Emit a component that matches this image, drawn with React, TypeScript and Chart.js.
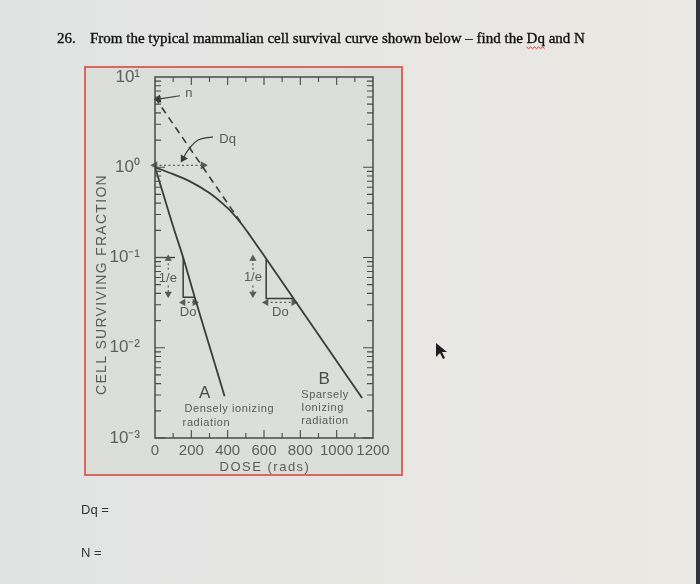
import { useEffect, useRef } from "react";
import { Chart, registerables } from "chart.js";

Chart.register(...registerables);

// ---------- data ----------
const doseTicks = [0, 200, 400, 600, 800, 1000, 1200];
const decadeTicks = [0.001, 0.01, 0.1, 1, 10];
const decadeLabels = ["10⁻³", "10⁻²", "10⁻¹", "10⁰", "10¹"];

// Curve A: densely ionizing radiation
const curveADose = [0, 50, 100, 155, 219, 300, 383];
const curveAFraction = [1.0, 0.47, 0.22, 0.1, 0.036, 0.0104, 0.0029];

// Curve B: sparsely ionizing radiation (shouldered)
const curveBDose = [0, 100, 192, 300, 373, 413, 482, 520, 614, 740, 900, 1140];
const curveBFraction = [1.0, 0.838, 0.697, 0.518, 0.396, 0.332, 0.228, 0.179, 0.0955, 0.041, 0.0139, 0.00277];

// Extrapolated straight portion of B back to n
const extrapDose = [0, 482];
const extrapFraction = [5.92, 0.229];

// Dq dotted arrow
const dqDose = [0, 265];
const dqFraction = [1.05, 1.05];

// Curved pointer from "Dq" label
const dqPointerDose = [319, 237, 182, 155];
const dqPointerFraction = [2.17, 2.0, 1.55, 1.25];

// Pointer from "n"
const nPointerDose = [137, 18];
const nPointerFraction = [6.2, 5.7];

// D0 triangles
const triADose = [155, 155, 219];
const triAFraction = [0.1, 0.0362, 0.0362];
const triBDose = [612, 612, 763];
const triBFraction = [0.0955, 0.0351, 0.0351];

// D0 dotted arrows
const d0ArrowADose = [155, 219];
const d0ArrowBDose = [612, 763];
const d0ArrowFraction = [0.0318, 0.0318];

// 1/e dotted arrows (with gap for label)
const eArrowADose = [73, 73, 73, 73, 73];
const eArrowBDose = [539, 539, 539, 539, 539];
const eArrowFraction = [0.097, 0.071, null, 0.049, 0.0395];

// bracket at 10^-1
const bracketDose = [0, 110];
const bracketFraction = [0.1, 0.1];

// text labels
const labelTexts = ["n", "Dq", "1/e", "1/e", "Do", "Do", "A", "Densely ionizing", "radiation", "B", "Sparsely", "Ionizing", "radiation"];
const labelDose = [186, 400, 71, 539, 182, 690, 274, 162, 152, 931, 805, 805, 805];
const labelFraction = [6.6, 2.05, 0.058, 0.06, 0.0247, 0.0247, 0.0031, 0.00209, 0.00148, 0.0045, 0.003, 0.00216, 0.00154];

const pts = (xs: number[], ys: (number | null)[]) => xs.map((x, i) => ({ x, y: ys[i] }));

const INK = "#3b3b3b";
const SOFT = "#5a5a5a";

export default function App() {
  const ref = useRef<HTMLCanvasElement | null>(null);

  useEffect(() => {
    if (!ref.current) return;

    const pagePlugin = {
      id: "page",
      beforeDraw(chart: any) {
        const ctx = chart.ctx as CanvasRenderingContext2D;
        ctx.save();
        const g = ctx.createLinearGradient(0, 0, 700, 0);
        g.addColorStop(0, "#e1e3e3");
        g.addColorStop(1, "#ebe9e4");
        ctx.fillStyle = g;
        ctx.fillRect(0, 0, 700, 584);
        ctx.fillStyle = "#2b3440";
        ctx.fillRect(696, 0, 4, 584);
        // red box
        ctx.fillStyle = "#dcdeda";
        ctx.fillRect(85, 67, 317, 408);
        ctx.strokeStyle = "#d8675d";
        ctx.lineWidth = 2;
        ctx.strokeRect(85, 67, 317, 408);
        // title
        ctx.fillStyle = "#111";
        ctx.strokeStyle = "#111";
        ctx.lineWidth = 0.35;
        ctx.font = '15px "Liberation Serif"';
        ctx.textBaseline = "alphabetic";
        ctx.textAlign = "left";
        const put = (s: string, x: number) => {
          ctx.fillText(s, x, 43);
          ctx.strokeText(s, x, 43);
        };
        put("26.", 57);
        const t = "From the typical mammalian cell survival curve shown below – find the ";
        put(t, 90);
        const w = ctx.measureText(t).width;
        put("Dq", 90 + w);
        const wd = ctx.measureText("Dq").width;
        put(" and N", 90 + w + wd);
        // squiggle under Dq
        ctx.strokeStyle = "#d23a2e";
        ctx.lineWidth = 1;
        ctx.beginPath();
        for (let x = 0; x <= wd; x += 2) {
          const yy = 47 + ((x / 2) % 2 === 0 ? 0 : 1.5);
          if (x === 0) ctx.moveTo(90 + w + x, yy);
          else ctx.lineTo(90 + w + x, yy);
        }
        ctx.stroke();
        // answer lines
        ctx.font = '13px "Liberation Sans"';
        ctx.fillStyle = "#333";
        ctx.fillText("Dq =", 81, 514);
        ctx.fillText("N =", 81, 557);
        // mouse cursor
        ctx.fillStyle = "#1e1e22";
        ctx.beginPath();
        ctx.moveTo(436, 343);
        ctx.lineTo(436, 357);
        ctx.lineTo(440, 353);
        ctx.lineTo(443, 359);
        ctx.lineTo(445, 358);
        ctx.lineTo(442, 352);
        ctx.lineTo(447, 352);
        ctx.closePath();
        ctx.fill();
        ctx.restore();
      },
    };

    const framePlugin = {
      id: "frame",
      afterDraw(chart: any) {
        const ctx = chart.ctx as CanvasRenderingContext2D;
        const a = chart.chartArea;
        const xs = chart.scales.x;
        const ys = chart.scales.y;
        ctx.save();
        ctx.strokeStyle = "#4a4a4a";
        ctx.lineWidth = 1.5;
        ctx.strokeRect(a.left, a.top, a.right - a.left, a.bottom - a.top);
        // inward ticks
        ctx.lineWidth = 1.1;
        ctx.beginPath();
        for (let e = -3; e <= 0; e++) {
          for (let k = 1; k <= 9; k++) {
            const v = k * Math.pow(10, e);
            const py = ys.getPixelForValue(v);
            const len = k === 1 ? 10 : 6;
            ctx.moveTo(a.left, py);
            ctx.lineTo(a.left + len, py);
            ctx.moveTo(a.right, py);
            ctx.lineTo(a.right - len, py);
          }
        }
        for (let d = 100; d < 1200; d += 100) {
          const px = xs.getPixelForValue(d);
          const len = d % 200 === 0 ? 8 : 5;
          ctx.moveTo(px, a.top);
          ctx.lineTo(px, a.top + len);
          ctx.moveTo(px, a.bottom);
          ctx.lineTo(px, a.bottom - len);
        }
        ctx.stroke();

        // axis titles
        ctx.fillStyle = SOFT;
        ctx.textAlign = "center";
        ctx.textBaseline = "middle";
        ctx.font = '14px "Liberation Sans"';
        (ctx as any).letterSpacing = "1.3px";
        ctx.save();
        ctx.translate(102, (a.top + a.bottom) / 2 + 27);
        ctx.rotate(-Math.PI / 2);
        ctx.fillText("CELL SURVIVING FRACTION", 0, 0);
        ctx.restore();
        ctx.font = '13px "Liberation Sans"';
        (ctx as any).letterSpacing = "1.5px";
        ctx.fillText("DOSE (rads)", (a.left + a.right) / 2 + 1, a.bottom + 29);
        (ctx as any).letterSpacing = "0px";

        // annotations
        labelTexts.forEach((txt, i) => {
          const px = xs.getPixelForValue(labelDose[i]);
          const py = ys.getPixelForValue(labelFraction[i]);
          const big = txt === "A" || txt === "B";
          const small = txt.length > 3;
          ctx.font = big ? '17px "Liberation Sans"' : small ? '11px "Liberation Sans"' : '13px "Liberation Sans"';
          (ctx as any).letterSpacing = small ? "0.6px" : "0px";
          ctx.textAlign = small ? "left" : "center";
          ctx.fillStyle = big ? "#4a4a4a" : SOFT;
          ctx.fillText(txt, px, py);
        });
        (ctx as any).letterSpacing = "0px";
        ctx.restore();
      },
    };

    const lineDs = (data: any[], extra: any = {}) => ({
      data,
      borderColor: INK,
      backgroundColor: INK,
      borderWidth: 1.8,
      pointRadius: 0,
      fill: false,
      spanGaps: false,
      ...extra,
    });

    const dotted = { borderDash: [2, 2.5], borderWidth: 1.2, borderColor: SOFT, backgroundColor: SOFT, pointStyle: "triangle", clip: false };

    const chart = new Chart(ref.current, {
      type: "line",
      data: {
        datasets: [
          lineDs(pts(curveADose, curveAFraction), { cubicInterpolationMode: "monotone" }),
          lineDs(pts(curveBDose, curveBFraction), { cubicInterpolationMode: "monotone" }),
          lineDs(pts(extrapDose, extrapFraction), { borderDash: [7, 5], borderWidth: 1.6 }),
          lineDs(pts(dqDose, dqFraction), { ...dotted, pointRadius: [3.5, 3.5], pointRotation: [270, 90] }),
          lineDs(pts(dqPointerDose, dqPointerFraction), {
            borderWidth: 1.2,
            tension: 0.4,
            pointStyle: "triangle",
            pointRadius: [0, 0, 0, 3.5],
            pointRotation: [0, 0, 0, 210],
            clip: false,
          }),
          lineDs(pts(nPointerDose, nPointerFraction), {
            borderWidth: 1.2,
            pointStyle: "triangle",
            pointRadius: [0, 3.5],
            pointRotation: [0, 260],
            clip: false,
          }),
          lineDs(pts(triADose, triAFraction), { borderWidth: 1.5 }),
          lineDs(pts(triBDose, triBFraction), { borderWidth: 1.5 }),
          lineDs(pts(d0ArrowADose, d0ArrowFraction), { ...dotted, pointRadius: [3, 3], pointRotation: [270, 90] }),
          lineDs(pts(d0ArrowBDose, d0ArrowFraction), { ...dotted, pointRadius: [3, 3], pointRotation: [270, 90] }),
          lineDs(pts(eArrowADose, eArrowFraction), { ...dotted, pointRadius: [3, 0, 0, 0, 3], pointRotation: [0, 0, 0, 0, 180] }),
          lineDs(pts(eArrowBDose, eArrowFraction), { ...dotted, pointRadius: [3, 0, 0, 0, 3], pointRotation: [0, 0, 0, 0, 180] }),
          lineDs(pts(bracketDose, bracketFraction), { borderWidth: 1.3, clip: false }),
        ] as any,
      },
      options: {
        responsive: false,
        animation: false,
        events: [],
        layout: { padding: { left: 85, right: 327, top: 77, bottom: 106 } },
        plugins: { legend: { display: false }, tooltip: { enabled: false } },
        scales: {
          x: {
            type: "linear",
            min: 0,
            max: 1200,
            afterFit: (s: any) => {
              s.height = 40;
            },
            afterBuildTicks: (s: any) => {
              s.ticks = doseTicks.map((v) => ({ value: v }));
            },
            grid: { display: false, drawTicks: false },
            border: { display: false },
            ticks: {
              autoSkip: false,
              maxRotation: 0,
              padding: 4,
              color: "#5e5e5e",
              font: { family: "Liberation Sans", size: 15 },
              callback: (v: any) => String(v),
            },
          },
          y: {
            type: "logarithmic",
            min: 0.001,
            max: 10,
            afterFit: (s: any) => {
              s.width = 70;
            },
            afterBuildTicks: (s: any) => {
              s.ticks = decadeTicks.map((v) => ({ value: v }));
            },
            grid: { display: false, drawTicks: false },
            border: { display: false },
            ticks: {
              autoSkip: false,
              padding: 15,
              color: "#5e5e5e",
              font: { family: "Liberation Sans", size: 17 },
              callback: (v: any) => {
                const i = decadeTicks.findIndex((d) => Math.abs(d - v) < d * 1e-6);
                return i >= 0 ? decadeLabels[i] : "";
              },
            },
          },
        },
      },
      plugins: [pagePlugin, framePlugin],
    } as any);

    return () => chart.destroy();
  }, []);

  return (
    <canvas
      ref={ref}
      width={700}
      height={584}
      style={{ position: "absolute", left: 0, top: 0, display: "block" }}
    />
  );
}
